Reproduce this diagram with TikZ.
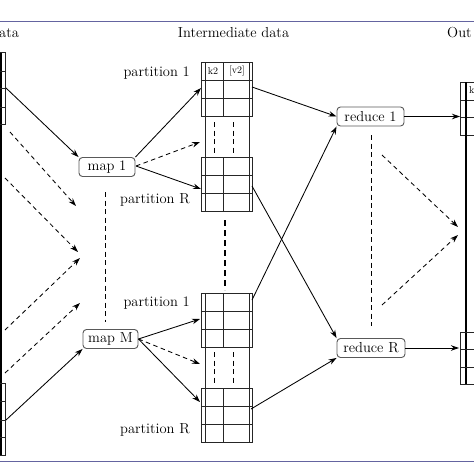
\documentclass[tikz,border=0pt]{standalone}
\usetikzlibrary{arrows.meta}
\newcommand\mrblock[1]{%
  \draw[cell] (201,#1) rectangle (252,#1+54);
  \draw[cell] (201,#1+18) -- (252,#1+18) (201,#1+36) -- (252,#1+36);
  \draw[cell] (223.5,#1) -- (223.5,#1+54);}
\begin{document}
\begin{tikzpicture}[x=1pt,y=-1pt,
  lab/.style={font=\fontsize{14.5}{17}\selectfont, inner sep=0pt},
  fn/.style={draw=black!65, rounded corners=3.5pt, line width=0.9pt,
    font=\fontsize{14.5}{17}\selectfont, inner sep=0pt, minimum height=19pt},
  small/.style={font=\fontsize{10}{12}\selectfont, inner sep=0pt},
  cell/.style={line width=0.75pt, draw=black!85},
  arr/.style={-{Stealth[length=8pt,width=5.5pt]}, line width=0.85pt},
  darr/.style={arr, dash pattern=on 4.5pt off 3.5pt},
  vdash/.style={line width=0.8pt, dash pattern=on 5pt off 3.5pt},
  rule/.style={line width=0.9pt, draw={rgb,255:red,100;green,100;blue,160}}]
\useasboundingbox (0,0) rectangle (474,474);
\clip (0,0) rectangle (474,474);
\fill[white] (0,0) rectangle (474,474);

% rules and headings
\draw[rule] (0,21) -- (474,21);
\draw[rule] (0,461) -- (474,461);
\node[lab, anchor=west] (hin) at (-1,33) {ata};
\node[lab] (hmid) at (233.5,33) {Intermediate data};
\node[lab, anchor=west] (hout) at (447,33) {Out};

% input column
\draw[line width=2.5pt] (1,52) -- (1,455);
\draw[cell] (-2,52) rectangle (5,124);
\draw[cell] (-2,71) -- (5,71) (-2,88) -- (5,88) (-2,107) -- (5,107);
\draw[cell] (-2,383) rectangle (5,455);
\draw[cell] (-2,401) -- (5,401) (-2,420) -- (5,420) (-2,437) -- (5,437);

% map nodes
\node[fn, minimum width=56pt] (map1) at (107,167) {map 1};
\node[fn, minimum width=55pt] (mapM) at (110.5,339) {map M};
\draw[vdash] (105,192) -- (105,322);

% reduce nodes
\node[fn, minimum width=67pt] (red1) at (370.5,116.5) {reduce 1};
\node[fn, minimum width=68pt] (redR) at (371,348) {reduce R};
\draw[vdash] (371,135) -- (371,326);

% intermediate columns
\draw[cell] (205,62) rectangle (249,211);
\mrblock{62}
\mrblock{157}
\draw[vdash, line width=1pt] (214,122) -- (214,153);
\draw[vdash, line width=1pt] (233,122) -- (233,153);
\node[small] (k2) at (213,71) {k2};
\node[small] (v2) at (237,71) {[v2]};

\draw[cell] (205,293) rectangle (249,442);
\mrblock{293}
\mrblock{388}
\draw[vdash, line width=1pt] (214,352) -- (214,384);
\draw[vdash, line width=1pt] (233,352) -- (233,384);

\draw[line width=1.2pt, dash pattern=on 6pt off 4pt] (225,220) -- (225,290);

% partition labels
\node[lab, anchor=east] (lp1a) at (190,73) {partition 1};
\node[lab, anchor=east] (lpRa) at (190,200) {partition R};
\node[lab, anchor=east] (lp1b) at (190,303) {partition 1};
\node[lab, anchor=east] (lpRb) at (190,430) {partition R};

% output column
\draw[cell] (460,82) rectangle (480,135);
\draw[cell] (460,100) -- (480,100) (460,117) -- (480,117);
\draw[line width=1.4pt] (466,82) -- (466,384);
\draw[cell] (460,332) rectangle (480,384);
\draw[cell] (460,349) -- (480,349) (460,367) -- (480,367);
\node[small, anchor=west] (ko) at (469,90) {k2};

% coordinates
\coordinate (in1) at (6,88);
\coordinate (inM) at (6,420);
\coordinate (ia) at (10,132);
\coordinate (ib) at (5,178);
\coordinate (ic) at (5,330);
\coordinate (id) at (5,373);
\coordinate (ta) at (76,206);
\coordinate (tb) at (78,252);
\coordinate (tc) at (80,258);
\coordinate (td) at (80,303);
\coordinate (m1o) at (136,166);
\coordinate (mMo) at (139,339);
\coordinate (p1a) at (201,88);
\coordinate (pda) at (200,142);
\coordinate (pRa) at (201,189);
\coordinate (p1b) at (200,319);
\coordinate (pdb) at (200,364);
\coordinate (pRb) at (200,402);
\coordinate (o1a) at (252,87);
\coordinate (oRa) at (252,186);
\coordinate (o1b) at (252,300);
\coordinate (oRb) at (251,409);
\coordinate (out1) at (460,116.5);
\coordinate (outR) at (459,348);
\coordinate (ra) at (382,155);
\coordinate (rb) at (382,305);
\coordinate (rt1) at (458,227);
\coordinate (rt2) at (458,235);

% input -> map
\draw[arr] (in1) -- (map1.north west);
\draw[arr] (inM) -- (mapM.south west);
\draw[darr] (ia) -- (ta);
\draw[darr] (ib) -- (tb);
\draw[darr] (ic) -- (tc);
\draw[darr] (id) -- (td);

% map -> partitions
\draw[arr] (map1.north east) -- (p1a);
\draw[darr] (m1o) -- (pda);
\draw[arr] (m1o) -- (pRa);
\draw[arr] (mapM.east) -- (p1b);
\draw[darr] (mapM.east) -- (pdb);
\draw[arr] (mapM.east) -- (pRb);

% partitions -> reduce
\draw[arr] (o1a) -- (red1.west);
\draw[arr] (o1b) -- (red1.south west);
\draw[arr] (oRa) -- (redR.north west);
\draw[arr] (oRb) -- (redR.south west);

% reduce -> output
\draw[arr] (red1.east) -- (out1);
\draw[arr] (redR.east) -- (outR);
\draw[darr] (ra) -- (rt1);
\draw[darr] (rb) -- (rt2);
\end{tikzpicture}
\end{document}
